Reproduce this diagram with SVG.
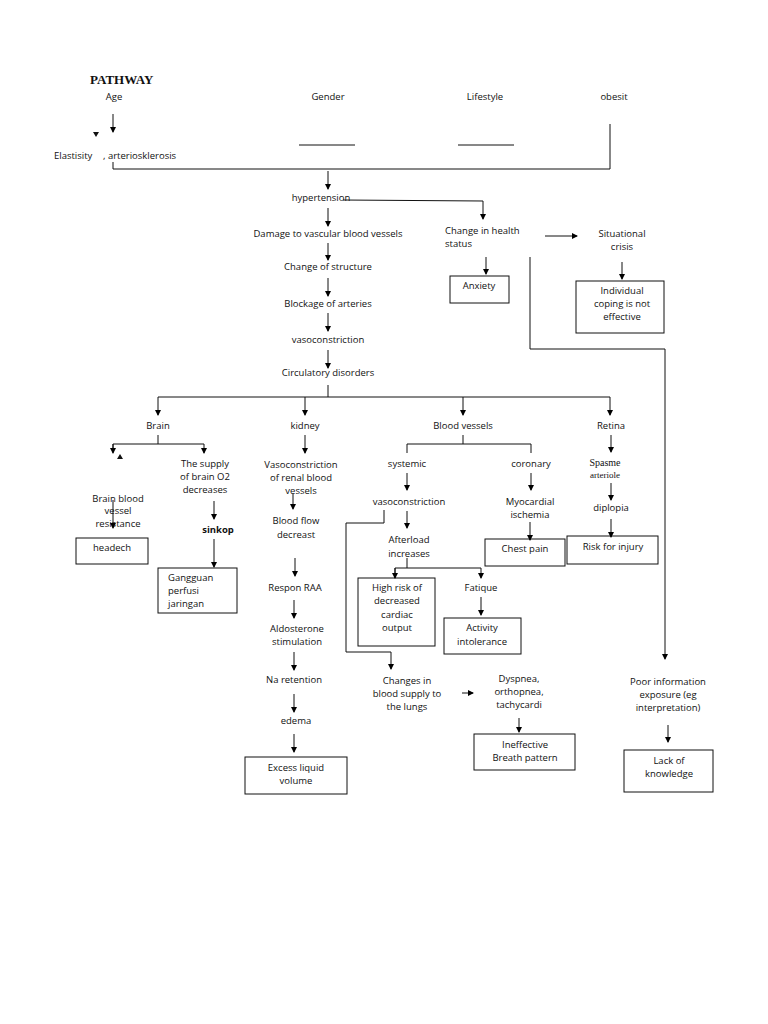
<svg xmlns="http://www.w3.org/2000/svg" width="768" height="1024" viewBox="0 0 768 1024">
<defs>
<marker id="ah" markerWidth="6" markerHeight="6" refX="5" refY="3" orient="auto" markerUnits="userSpaceOnUse"><path d="M0,0 L6,3 L0,6 z" fill="#000"/></marker>
<style>
text{font-family:"Open Sans","Liberation Sans",sans-serif;font-size:9.5px;fill:#111;text-anchor:middle;dominant-baseline:middle}
.l{text-anchor:start}
.b{font-weight:bold}
.s{font-family:"Liberation Serif",serif}
.c line,.c polyline{stroke:#111;stroke-width:1;fill:none}
.a{marker-end:url(#ah)}
rect{fill:#fff;stroke:#111;stroke-width:1}
</style>
</defs>
<rect x="0" y="0" width="768" height="1024" style="stroke:none"/>
<text class="s b l" x="90" y="81" style="font-size:13px">PATHWAY</text>
<g id="age"><text x="114" y="97">Age</text></g>
<g id="gender"><text x="328" y="97">Gender</text></g>
<g id="lifestyle"><text x="485" y="97">Lifestyle</text></g>
<g id="obesit"><text x="614" y="97">obesit</text></g>
<g id="elastisity"><text class="l" x="54" y="156">Elastisity</text><text class="l" x="103" y="156">, arteriosklerosis</text></g>
<g id="hypertension"><text x="321" y="198">hypertension</text></g>
<g id="damage"><text x="328" y="234">Damage to vascular blood vessels</text></g>
<g id="structure"><text x="328" y="267">Change of structure</text></g>
<g id="blockage"><text x="328" y="304">Blockage of arteries</text></g>
<g id="vaso1"><text x="328" y="340">vasoconstriction</text></g>
<g id="circ"><text x="328" y="373">Circulatory disorders</text></g>
<g id="health"><text class="l" x="445" y="231">Change in health</text><text class="l" x="445" y="244">status</text></g>
<g id="situational"><text x="622" y="234">Situational</text><text x="622" y="247">crisis</text></g>
<g id="coping"><rect x="576" y="281" width="88" height="52"/><text x="622" y="291">Individual</text><text x="622" y="304">coping is not</text><text x="622" y="317">effective</text></g>
<g id="anxiety"><rect x="450" y="276" width="59" height="27"/><text x="479" y="286">Anxiety</text></g>
<g id="poor"><text x="668" y="682">Poor information</text><text x="668" y="695">exposure (eg</text><text x="668" y="708">interpretation)</text></g>
<g id="lack"><rect x="624" y="750" width="89" height="42"/><text x="669" y="761">Lack of</text><text x="669" y="774">knowledge</text></g>
<g id="brain"><text x="158" y="426">Brain</text></g>
<g id="kidney"><text x="305" y="426">kidney</text></g>
<g id="bloodvessels"><text x="463" y="426">Blood vessels</text></g>
<g id="retina"><text x="611" y="426">Retina</text></g>
<g id="resistance"><text x="118" y="499">Brain blood</text><text x="118" y="511">vessel</text><text x="118" y="524">resistance</text></g>
<g id="headech"><rect x="76" y="538" width="72" height="26"/><text x="112" y="548">headech</text></g>
<g id="supply"><text x="205" y="464">The supply</text><text x="205" y="477">of brain O2</text><text x="205" y="490">decreases</text></g>
<g id="sinkop"><text class="b" x="218" y="530">sinkop</text></g>
<g id="gangguan"><rect x="158" y="568" width="79" height="45"/><text class="l" x="168" y="578">Gangguan</text><text class="l" x="168" y="591">perfusi</text><text class="l" x="168" y="604">jaringan</text></g>
<g id="renal"><text x="301" y="465">Vasoconstriction</text><text x="301" y="478">of renal blood</text><text x="301" y="491">vessels</text></g>
<g id="flow"><text x="296" y="521">Blood flow</text><text x="296" y="535">decreast</text></g>
<g id="raa"><text x="295" y="588">Respon RAA</text></g>
<g id="aldo"><text x="297" y="629">Aldosterone</text><text x="297" y="642">stimulation</text></g>
<g id="na"><text x="294" y="680">Na retention</text></g>
<g id="edema"><text x="296" y="721">edema</text></g>
<g id="excess"><rect x="245" y="757" width="102" height="37"/><text x="296" y="768">Excess liquid</text><text x="296" y="781">volume</text></g>
<g id="systemic"><text x="407" y="464">systemic</text></g>
<g id="coronary"><text x="531" y="464">coronary</text></g>
<g id="vaso2"><text x="409" y="502">vasoconstriction</text></g>
<g id="myo"><text x="530" y="502">Myocardial</text><text x="530" y="515">ischemia</text></g>
<g id="chest"><rect x="485" y="539" width="80" height="27"/><text x="525" y="549">Chest pain</text></g>
<g id="afterload"><text x="409" y="540">Afterload</text><text x="409" y="554">increases</text></g>
<g id="highrisk"><rect x="358" y="578" width="77" height="68"/><text x="397" y="588">High risk of</text><text x="397" y="601">decreased</text><text x="397" y="615">cardiac</text><text x="397" y="628">output</text></g>
<g id="fatique"><text x="481" y="588">Fatique</text></g>
<g id="activity"><rect x="444" y="618" width="77" height="36"/><text x="482" y="628">Activity</text><text x="482" y="642">intolerance</text></g>
<g id="spasme"><text class="s" x="605" y="464" style="font-size:10px">Spasme</text><text class="s" x="605" y="476" style="font-size:9px">arteriole</text></g>
<g id="diplopia"><text x="611" y="508">diplopia</text></g>
<g id="risk"><rect x="567" y="536" width="91" height="28"/><text x="613" y="547">Risk for injury</text></g>
<g id="lungs"><text x="407" y="681">Changes in</text><text x="407" y="694">blood supply to</text><text x="407" y="707">the lungs</text></g>
<g id="dyspnea"><text x="519" y="679">Dyspnea,</text><text x="519" y="692">orthopnea,</text><text x="519" y="705">tachycardi</text></g>
<g id="ineffective"><rect x="474" y="734" width="101" height="36"/><text x="525" y="745">Ineffective</text><text x="525" y="758">Breath pattern</text></g>
<g id="connectors" class="c">
<line class="a" x1="113" y1="114" x2="113" y2="132"/>
<path d="M93,132 L99,132 L96,137 z" fill="#111"/>
<path d="M117,459 L123,459 L120,454 z" fill="#111"/>
<line x1="299" y1="145" x2="355" y2="145"/>
<line x1="458" y1="145" x2="514" y2="145"/>
<polyline points="610,124 610,169 113,169 113,162"/>
<line class="a" x1="328" y1="171" x2="328" y2="189"/>
<polyline class="a" points="343,200 483,201 483,219"/>
<line class="a" x1="328" y1="208" x2="328" y2="226"/>
<line class="a" x1="328" y1="243" x2="328" y2="260"/>
<line class="a" x1="328" y1="278" x2="328" y2="296"/>
<line class="a" x1="328" y1="313" x2="328" y2="331"/>
<line class="a" x1="328" y1="350" x2="328" y2="368"/>
<line class="a" x1="545" y1="236" x2="577" y2="236"/>
<line class="a" x1="622" y1="262" x2="622" y2="279"/>
<line class="a" x1="486" y1="257" x2="486" y2="274"/>
<polyline class="a" points="530,257 530,349 665,349 665,659"/>
<line class="a" x1="668" y1="725" x2="668" y2="742"/>
<line x1="328" y1="385" x2="328" y2="397"/>
<line x1="158" y1="397" x2="610" y2="397"/>
<line class="a" x1="158" y1="397" x2="158" y2="415"/>
<line class="a" x1="305" y1="397" x2="305" y2="415"/>
<line class="a" x1="463" y1="397" x2="463" y2="415"/>
<line class="a" x1="610" y1="397" x2="610" y2="415"/>
<line x1="158" y1="435" x2="158" y2="444"/>
<polyline class="a" points="113,452 113,444 204,444 204,453"/>
<line class="a" x1="113" y1="444" x2="113" y2="453"/>
<line class="a" x1="113" y1="500" x2="113" y2="528"/>
<line class="a" x1="214" y1="501" x2="214" y2="519"/>
<line class="a" x1="214" y1="539" x2="214" y2="567"/>
<line class="a" x1="305" y1="435" x2="305" y2="453"/>
<line class="a" x1="293" y1="494" x2="293" y2="509"/>
<line class="a" x1="295" y1="558" x2="295" y2="576"/>
<line class="a" x1="294" y1="600" x2="294" y2="618"/>
<line class="a" x1="294" y1="652" x2="294" y2="670"/>
<line class="a" x1="294" y1="694" x2="294" y2="712"/>
<line class="a" x1="294" y1="734" x2="294" y2="752"/>
<line x1="463" y1="435" x2="463" y2="444"/>
<polyline points="407,453 407,444 531,444 531,453"/>
<line class="a" x1="407" y1="473" x2="407" y2="490"/>
<line class="a" x1="531" y1="473" x2="531" y2="490"/>
<line class="a" x1="407" y1="511" x2="407" y2="528"/>
<polyline class="a" points="384,510 384,523 346,523 346,652 391,652 391,669"/>
<line x1="407" y1="558" x2="407" y2="568"/>
<polyline class="a" points="395,578 395,568 481,568 481,578"/>
<line class="a" x1="395" y1="568" x2="395" y2="578"/>
<line class="a" x1="481" y1="597" x2="481" y2="615"/>
<line class="a" x1="530" y1="522" x2="530" y2="540"/>
<line class="a" x1="611" y1="435" x2="611" y2="452"/>
<line class="a" x1="611" y1="483" x2="611" y2="500"/>
<line class="a" x1="611" y1="519" x2="611" y2="537"/>
<line class="a" x1="462" y1="693" x2="473" y2="693"/>
<line class="a" x1="519" y1="718" x2="519" y2="732"/>
</g>
</svg>
